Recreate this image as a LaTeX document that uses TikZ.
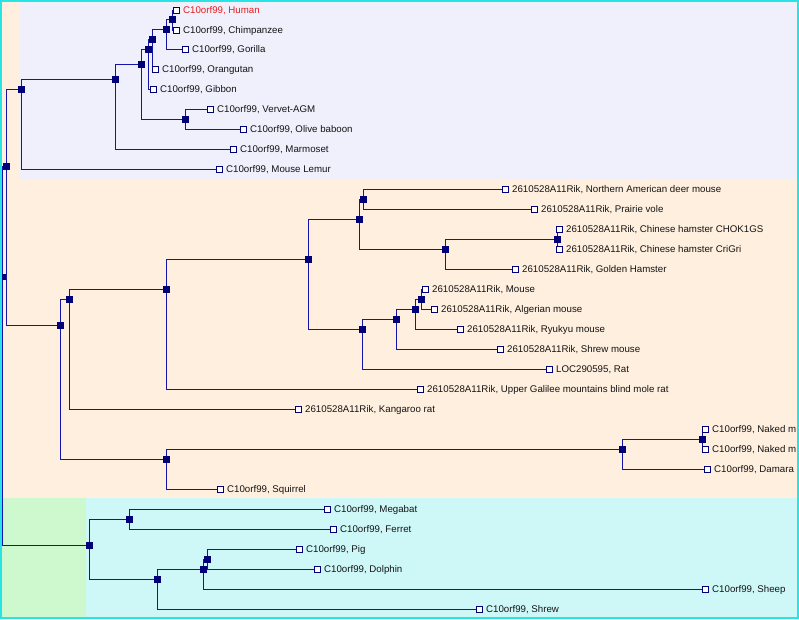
\documentclass[tikz,border=0pt]{standalone}
\usepackage{fontspec}
\setmainfont{Liberation Sans}
\definecolor{linecol}{RGB}{20,20,170}
\definecolor{nodecol}{RGB}{0,0,120}
\definecolor{txtcol}{RGB}{20,20,20}
\definecolor{humred}{RGB}{230,30,30}
\definecolor{lavbg}{RGB}{239,240,252}
\definecolor{beigebg}{RGB}{255,239,222}
\definecolor{greenbg}{RGB}{206,248,206}
\definecolor{cyanbg}{RGB}{206,248,248}
\definecolor{bordercol}{RGB}{40,228,228}
\pgfdeclarelayer{bg}
\pgfdeclarelayer{edges}
\pgfsetlayers{bg,edges,main}
\tikzset{
  inode/.style={rectangle, fill=nodecol, minimum width=7.5pt, minimum height=7.5pt, inner sep=0pt},
  rootnode/.style={rectangle, fill=nodecol, minimum width=4pt, minimum height=6pt, inner sep=0pt},
  leaf/.style={rectangle, draw=nodecol, fill=white, line width=1pt, minimum size=6pt, inner sep=0pt},
  lbl/.style={font=\fontsize{9.7}{11}\selectfont, text=txtcol, inner sep=0pt, xshift=3pt, yshift=-0.4pt},
  br/.style={draw=linecol, line width=1pt},
}
\begin{document}
\begin{tikzpicture}[x=1pt,y=-1pt]
\useasboundingbox (0,0) rectangle (799,619);
% backgrounds
\begin{pgfonlayer}{bg}
\fill[beigebg] (0,0) rectangle (799,619);
\fill[lavbg] (19,2) rectangle (797,179);
\fill[greenbg] (2,498) rectangle (86,617);
\fill[cyanbg] (86,498) rectangle (797,617);
\draw[bordercol, line width=1.6pt] (0.8,0.8) rectangle (798.2,618.2);
\end{pgfonlayer}

\begin{scope}[shift={(0.5,0.5)}]
% internal nodes
\node[rootnode] (root) at (3,276) {};
\node[inode] (A) at (6,166) {};
\node[inode] (B) at (21,89) {};
\node[inode] (P1) at (115,79) {};
\node[inode] (P2) at (141,64) {};
\node[inode] (P3) at (148,49) {};
\node[inode] (P4) at (152,39) {};
\node[inode] (P5) at (166,29) {};
\node[inode] (P6) at (172,19) {};
\node[inode] (OW) at (185,119) {};
\node[inode] (C) at (60,325) {};
\node[inode] (R1) at (69,299) {};
\node[inode] (R2) at (166,289) {};
\node[inode] (R3) at (308,259) {};
\node[inode] (R4) at (359,219) {};
\node[inode] (R6) at (363,199) {};
\node[inode] (R7) at (445,249) {};
\node[inode] (CH) at (557,239) {};
\node[inode] (R5) at (362,329) {};
\node[inode] (M1) at (396,319) {};
\node[inode] (M2) at (415,309) {};
\node[inode] (M3) at (421,299) {};
\node[inode] (Sq) at (166,459) {};
\node[inode] (NM) at (622,449) {};
\node[inode] (NM2) at (702,439) {};
\node[inode] (L) at (89,545) {};
\node[inode] (L1) at (129,519) {};
\node[inode] (L2) at (157,579) {};
\node[inode] (L3) at (203,569) {};
\node[inode] (L4) at (207,559) {};

% leaves
\node[leaf, label={[lbl,text=humred]east:C10orf99, Human}] (human) at (176,10) {};
\node[leaf, label={[lbl]east:C10orf99, Chimpanzee}] (chimp) at (176,30) {};
\node[leaf, label={[lbl]east:C10orf99, Gorilla}] (gorilla) at (185,49) {};
\node[leaf, label={[lbl]east:C10orf99, Orangutan}] (orang) at (155,69) {};
\node[leaf, label={[lbl]east:C10orf99, Gibbon}] (gibbon) at (153,89) {};
\node[leaf, label={[lbl]east:C10orf99, Vervet-AGM}] (vervet) at (210,109) {};
\node[leaf, label={[lbl]east:C10orf99, Olive baboon}] (baboon) at (243,129) {};
\node[leaf, label={[lbl]east:C10orf99, Marmoset}] (marmoset) at (233,149) {};
\node[leaf, label={[lbl]east:C10orf99, Mouse Lemur}] (lemur) at (219,169) {};
\node[leaf, label={[lbl]east:2610528A11Rik, Northern American deer mouse}] (deer) at (505,189) {};
\node[leaf, label={[lbl]east:2610528A11Rik, Prairie vole}] (vole) at (534,209) {};
\node[leaf, label={[lbl]east:2610528A11Rik, Chinese hamster CHOK1GS}] (chok) at (559,229) {};
\node[leaf, label={[lbl]east:2610528A11Rik, Chinese hamster CriGri}] (crigri) at (559,249) {};
\node[leaf, label={[lbl]east:2610528A11Rik, Golden Hamster}] (golden) at (515,269) {};
\node[leaf, label={[lbl]east:2610528A11Rik, Mouse}] (mouse) at (425,289) {};
\node[leaf, label={[lbl]east:2610528A11Rik, Algerian mouse}] (algerian) at (434,309) {};
\node[leaf, label={[lbl]east:2610528A11Rik, Ryukyu mouse}] (ryukyu) at (460,329) {};
\node[leaf, label={[lbl]east:2610528A11Rik, Shrew mouse}] (shrewmouse) at (500,349) {};
\node[leaf, label={[lbl]east:LOC290595, Rat}] (rat) at (549,369) {};
\node[leaf, label={[lbl]east:2610528A11Rik, Upper Galilee mountains blind mole rat}] (molerat) at (420,389) {};
\node[leaf, label={[lbl]east:2610528A11Rik, Kangaroo rat}] (kangaroo) at (298,409) {};
\node[leaf, label={[lbl]east:C10orf99, Naked m}] (naked1) at (705,429) {};
\node[leaf, label={[lbl]east:C10orf99, Naked m}] (naked2) at (705,449) {};
\node[leaf, label={[lbl]east:C10orf99, Damara}] (damara) at (707,469) {};
\node[leaf, label={[lbl]east:C10orf99, Squirrel}] (squirrel) at (220,489) {};
\node[leaf, label={[lbl]east:C10orf99, Megabat}] (megabat) at (327,509) {};
\node[leaf, label={[lbl]east:C10orf99, Ferret}] (ferret) at (333,529) {};
\node[leaf, label={[lbl]east:C10orf99, Pig}] (pig) at (299,549) {};
\node[leaf, label={[lbl]east:C10orf99, Dolphin}] (dolphin) at (317,569) {};
\node[leaf, label={[lbl]east:C10orf99, Sheep}] (sheep) at (705,589) {};
\node[leaf, label={[lbl]east:C10orf99, Shrew}] (shrew) at (479,609) {};
\coordinate (rootline) at (2,276);
\end{scope}

% branches
\begin{pgfonlayer}{edges}
\draw[br] (rootline) |- (A);
\draw[br] (rootline) |- (L);
\draw[br] (A) |- (B);
\draw[br] (A) |- (C);
\draw[br] (B) |- (P1);
\draw[br] (B) |- (lemur);
\draw[br] (P1) |- (P2);
\draw[br] (P1) |- (marmoset);
\draw[br] (P2) |- (P3);
\draw[br] (P2) |- (OW);
\draw[br] (P3) |- (P4);
\draw[br] (P3) |- (gibbon);
\draw[br] (P4) |- (P5);
\draw[br] (P4) |- (orang);
\draw[br] (P5) |- (P6);
\draw[br] (P5) |- (gorilla);
\draw[br] (P6) |- (human);
\draw[br] (P6) |- (chimp);
\draw[br] (OW) |- (vervet);
\draw[br] (OW) |- (baboon);
\draw[br] (C) |- (R1);
\draw[br] (C) |- (Sq);
\draw[br] (R1) |- (R2);
\draw[br] (R1) |- (kangaroo);
\draw[br] (R2) |- (R3);
\draw[br] (R2) |- (molerat);
\draw[br] (R3) |- (R4);
\draw[br] (R3) |- (R5);
\draw[br] (R4) |- (R6);
\draw[br] (R4) |- (R7);
\draw[br] (R6) |- (deer);
\draw[br] (R6) |- (vole);
\draw[br] (R7) |- (CH);
\draw[br] (R7) |- (golden);
\draw[br] (CH) |- (chok);
\draw[br] (CH) |- (crigri);
\draw[br] (R5) |- (M1);
\draw[br] (R5) |- (rat);
\draw[br] (M1) |- (M2);
\draw[br] (M1) |- (shrewmouse);
\draw[br] (M2) |- (M3);
\draw[br] (M2) |- (ryukyu);
\draw[br] (M3) |- (mouse);
\draw[br] (M3) |- (algerian);
\draw[br] (Sq) |- (NM);
\draw[br] (Sq) |- (squirrel);
\draw[br] (NM) |- (NM2);
\draw[br] (NM) |- (damara);
\draw[br] (NM2) |- (naked1);
\draw[br] (NM2) |- (naked2);
\draw[br] (L) |- (L1);
\draw[br] (L) |- (L2);
\draw[br] (L1) |- (megabat);
\draw[br] (L1) |- (ferret);
\draw[br] (L2) |- (L3);
\draw[br] (L2) |- (shrew);
\draw[br] (L3) |- (L4);
\draw[br] (L3) |- (sheep);
\draw[br] (L4) |- (pig);
\draw[br] (L4) |- (dolphin);
\end{pgfonlayer}
\end{tikzpicture}
\end{document}
